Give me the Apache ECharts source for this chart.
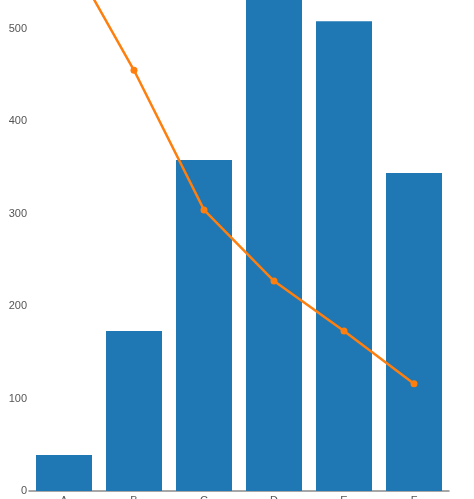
<!DOCTYPE html>
<html>
<head>
<meta charset="utf-8">
<script src="https://cdn.jsdelivr.net/npm/echarts@6/dist/echarts.min.js"></script>
<style>html,body{margin:0;padding:0;background:#fff}#c{width:474px;height:499px}</style>
</head>
<body>
<div id="c"></div>
<script>
var categories = ['A', 'B', 'C', 'D', 'E', 'F'];
var barValues = [39, 173, 358, 565, 508, 344];
var lineValues = [589, 455, 304, 227, 173, 116];
var yMin = 0, yMax = 531, yInterval = 100;

var chart = echarts.init(document.getElementById('c'), null, {renderer: 'canvas'});
chart.setOption({
  animation: false,
  grid: {left: 29, right: 25, top: 0, bottom: 8, containLabel: false, outerBoundsMode: 'none'},
  xAxis: {
    type: 'category',
    data: categories,
    axisLine: {show: true, lineStyle: {color: '#8a8a8a', width: 1.5}},
    axisTick: {show: false},
    axisLabel: {color: '#555', fontSize: 11, fontFamily: 'Liberation Sans, Arial', margin: 4}
  },
  yAxis: {
    type: 'value',
    min: yMin, max: yMax, interval: yInterval,
    axisLine: {show: false},
    axisTick: {show: false},
    splitLine: {show: false},
    axisLabel: {color: '#555', fontSize: 11, fontFamily: 'Liberation Sans, Arial', margin: 2, showMaxLabel: false}
  },
  series: [
    {
      type: 'bar',
      data: barValues,
      barCategoryGap: '20%',
      itemStyle: {color: '#1f77b4'},
      clip: true
    },
    {
      type: 'line',
      data: lineValues,
      symbol: 'circle',
      symbolSize: 7,
      lineStyle: {color: '#ff7f0e', width: 2.5},
      itemStyle: {color: '#ff7f0e'},
      clip: true,
      z: 5
    }
  ]
});
</script>
</body>
</html>
